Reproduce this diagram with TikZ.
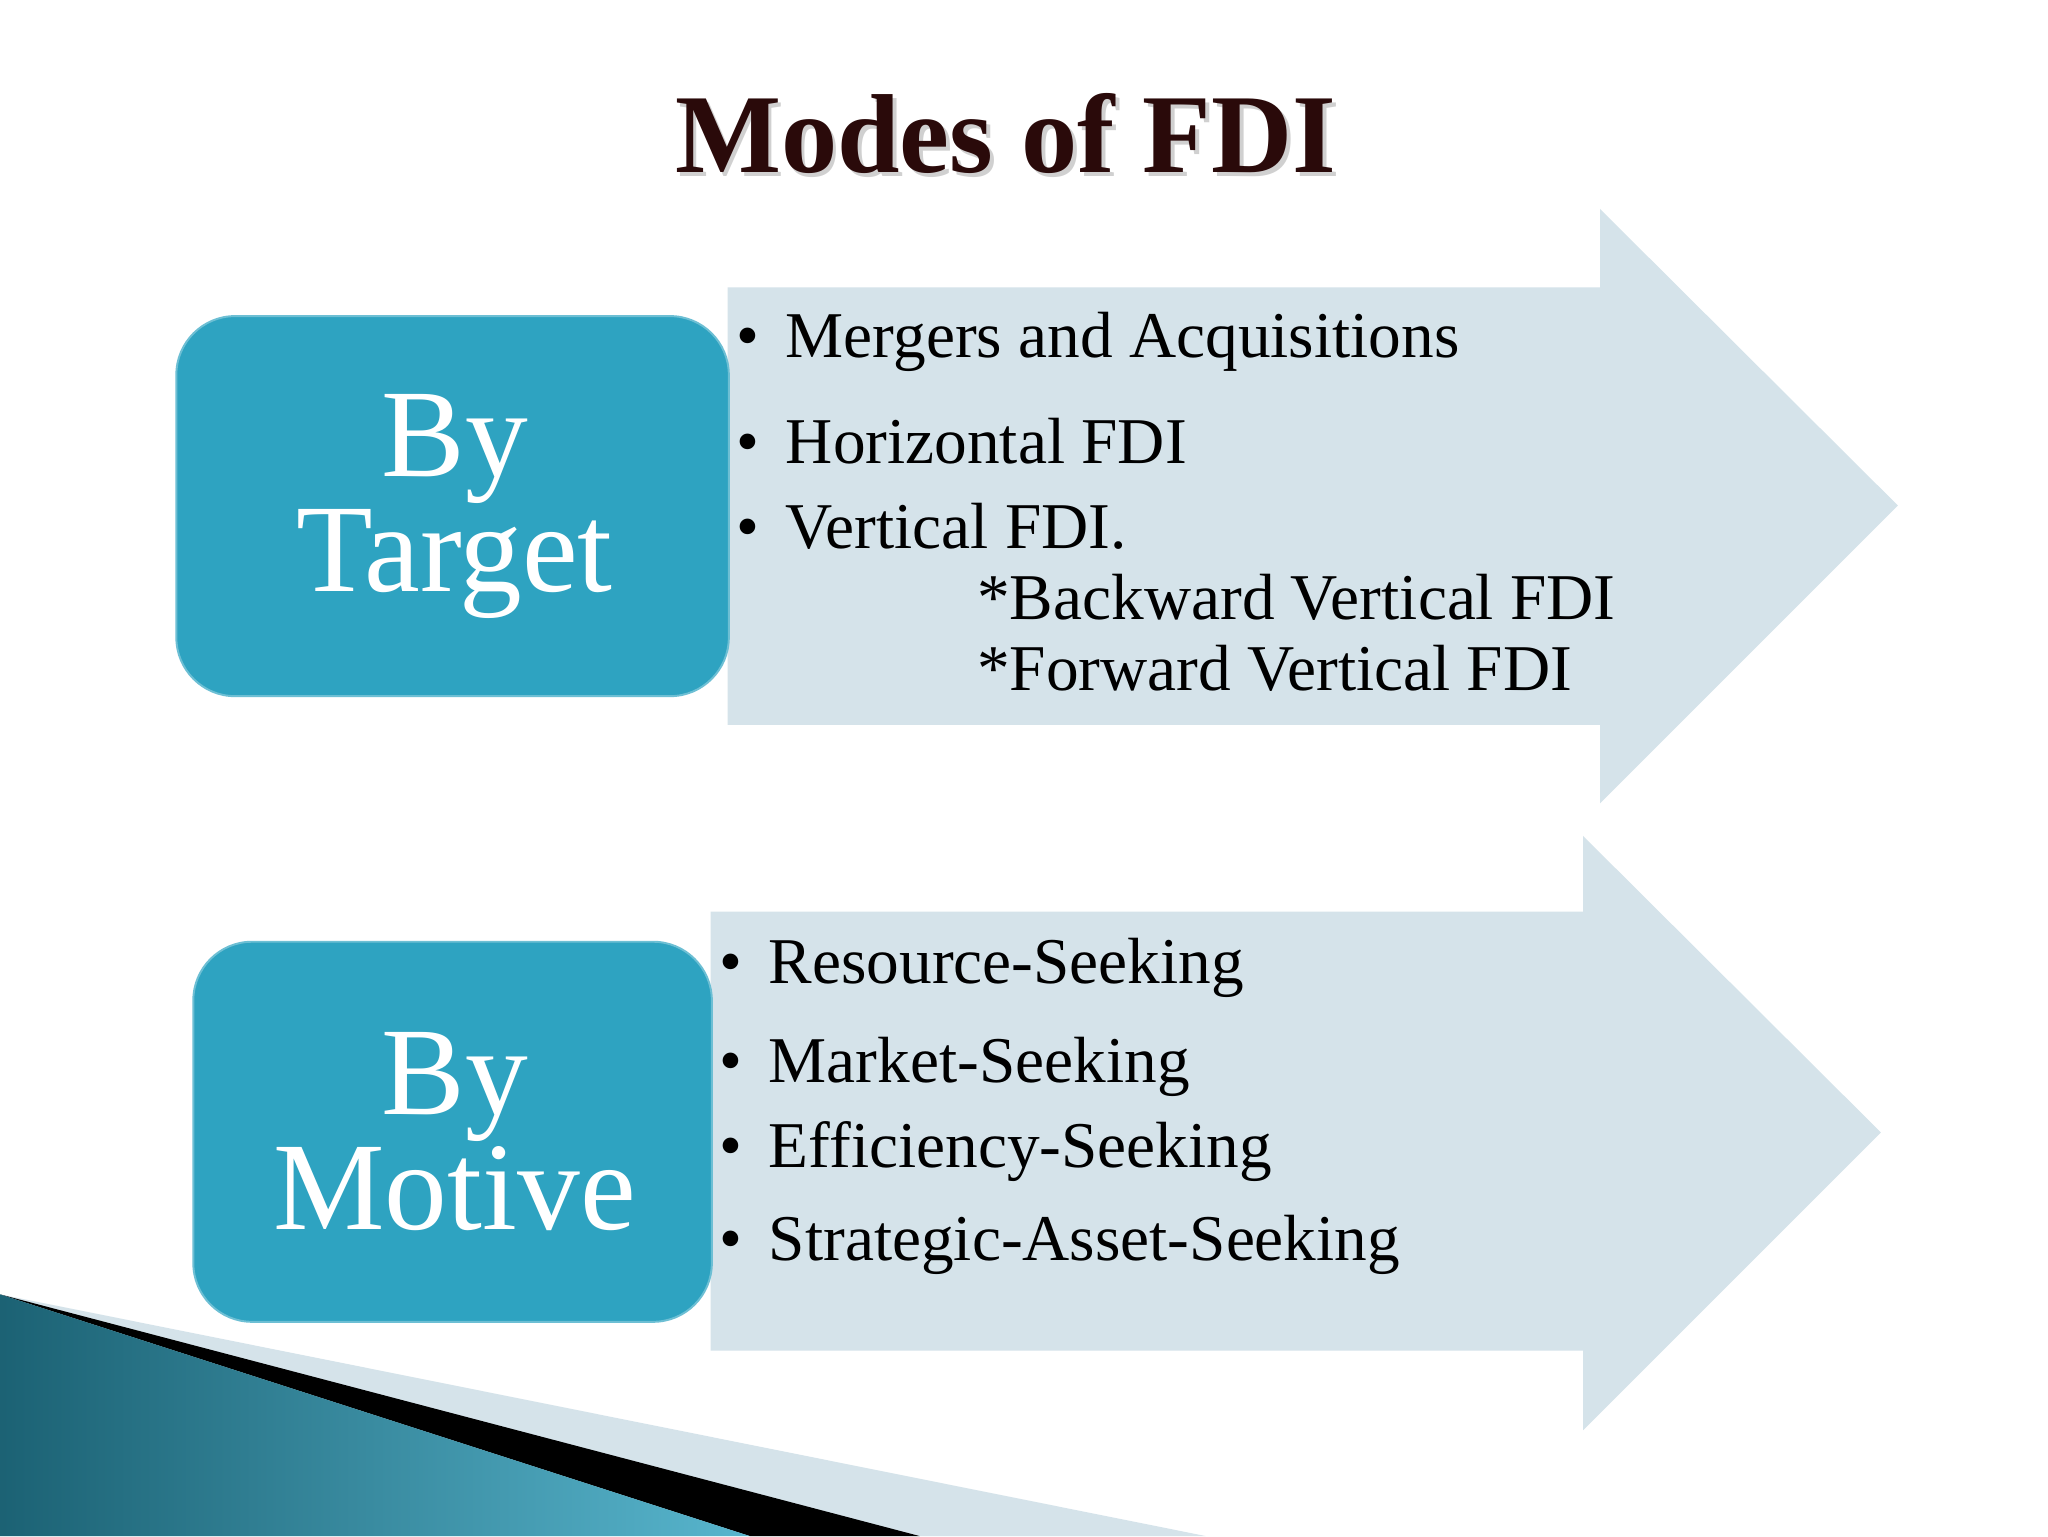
\documentclass[tikz,border=0pt]{standalone}
\usepackage{fontspec}
\setmainfont{Liberation Serif}
\begin{document}
\begin{tikzpicture}[x=1pt,y=-1pt,
  arrowbg/.style={fill=arrowc,draw=none},
  catbox/.style={fill=boxc,draw=boxc!70!white,line width=1.5pt,rounded corners=45pt},
  cattext/.style={text=white,font=\fontsize{96}{100}\selectfont,align=center},
  item/.style={anchor=west,font=\fontsize{50}{55}\selectfont,inner sep=0pt}]
\definecolor{arrowc}{HTML}{D5E3EA}
\definecolor{boxc}{HTML}{2EA3C1}
\definecolor{titlec}{HTML}{2A0A0A}
\useasboundingbox (0,0) rectangle (1568,1176);
\fill[white] (0,0) rectangle (1568,1176);
% bottom-left decoration
\fill[arrowc] (0,991) -- (923,1176) -- (0,1176) -- cycle;
\fill[black] (0,991) -- (704,1176) -- (574,1176) -- cycle;
\shade[left color=boxc!60!black, right color=boxc!80!white] (0,991) -- (574,1176) -- (0,1176) -- cycle;
% title
\node[font=\fontsize{86}{90}\selectfont\bfseries,text=gray!60,opacity=0.6] at (773,105) {Modes of FDI};
\node (title) [font=\fontsize{86}{90}\selectfont\bfseries,text=titlec] at (770,102) {Modes of FDI};
% arrows
\fill[arrowbg] (557,220) -- (1225,220) -- (1225,160) -- (1453,387) -- (1225,615) -- (1225,555) -- (557,555) -- cycle;
\fill[arrowbg] (544,698) -- (1212,698) -- (1212,640) -- (1440,867) -- (1212,1095) -- (1212,1034) -- (544,1034) -- cycle;
% boxes
\draw[catbox] (135,242) rectangle (558,533);
\node (t) [cattext] at (348,388) {By\\[-12pt]Target};
\draw[catbox] (148,721) rectangle (545,1012);
\node (m) [cattext] at (348,866) {By\\[-12pt]Motive};
% items top
\node (a1) [item] at (564,262) {\textbullet\hspace{20pt}Mergers and Acquisitions};
\node (a2) [item] at (564,338) {\textbullet\hspace{20pt}Horizontal FDI};
\node (a3) [item] at (564,403) {\textbullet\hspace{20pt}Vertical FDI.};
\node (a4) [item] at (748,457) {*Backward Vertical FDI};
\node (a5) [item] at (748,512) {*Forward Vertical FDI};
% items bottom
\node (b1) [item] at (551,741) {\textbullet\hspace{20pt}Resource-Seeking};
\node (b2) [item] at (551,817) {\textbullet\hspace{20pt}Market-Seeking};
\node (b3) [item] at (551,882) {\textbullet\hspace{20pt}Efficiency-Seeking};
\node (b4) [item] at (551,953) {\textbullet\hspace{20pt}Strategic-Asset-Seeking};
\end{tikzpicture}
\end{document}
